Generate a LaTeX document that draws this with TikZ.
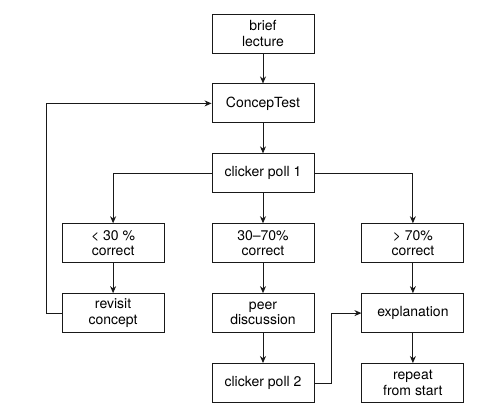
\documentclass[tikz,border=0pt]{standalone}
\usepackage{fontspec}
\setmainfont{TeX Gyre Heros}
\usetikzlibrary{positioning, calc, arrows.meta}
\definecolor{ink}{RGB}{25,25,25}
\tikzset{
  stepbox/.style={draw=ink, line width=0.9pt, fill=white,
    minimum width=102pt, minimum height=39pt, align=center, inner sep=1pt,
    font=\fontsize{14}{15.5}\selectfont},
  flowedge/.style={draw=ink, line width=0.9pt, -{Stealth[length=7pt, width=6pt]}}
}

\begin{document}
\begin{tikzpicture}[x=1pt, y=1pt, node distance=30pt and 47pt]
  \useasboundingbox (0,0) rectangle (504,-415);
  % main column
  \node[stepbox] (lecture) at (263,-33.5) {brief\\lecture};
  \node[stepbox, below=of lecture] (concep) {ConcepTest};
  \node[stepbox, below=of concep] (poll1) {clicker poll 1};
  % three outcomes
  \node[stepbox, below=of poll1] (mid) {30--70\%\\correct};
  \node[stepbox, left=of mid] (low) {< 30 \%\\correct};
  \node[stepbox, right=of mid] (high) {> 70\%\\correct};
  \node[stepbox, below=of low] (revisit) {revisit\\concept};
  \node[stepbox, below=of mid] (peer) {peer\\discussion};
  \node[stepbox, below=of high] (explain) {explanation};
  \node[stepbox, below=of peer] (poll2) {clicker poll 2};
  \node[stepbox, below=of explain] (repeat) {repeat\\from start};

  \draw[flowedge] (lecture) -- (concep);
  \draw[flowedge] (concep) -- (poll1);
  \draw[flowedge] (poll1.west) -| (low.north);
  \draw[flowedge] (poll1) -- (mid);
  \draw[flowedge] (poll1.east) -| (high.north);
  \draw[flowedge] (low) -- (revisit);
  \draw[flowedge] (mid) -- (peer);
  \draw[flowedge] (high) -- (explain);
  \draw[flowedge] (peer) -- (poll2);
  \draw[flowedge] (explain) -- (repeat);
  \draw[flowedge] (revisit.west) -- ++(-15,0) |- (concep.west);
  \draw[flowedge] (poll2.east) -- ++(17,0) |- (explain.west);
\end{tikzpicture}
\end{document}
